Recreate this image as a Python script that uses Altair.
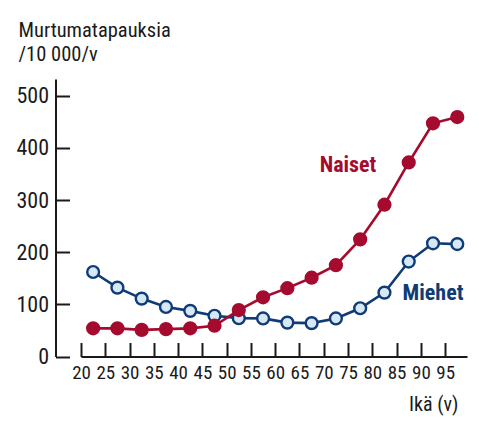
import altair as alt
import pandas as pd

# ---- data ----
ages = [22.5, 27.5, 32.5, 37.5, 42.5, 47.5, 52.5, 57.5, 62.5, 67.5, 72.5, 77.5, 82.5, 87.5, 92.5, 97.5]
naiset = [54, 54, 51, 52.5, 54, 59, 89, 113.5, 131, 151, 175, 224.5, 291, 372, 447, 459]
miehet = [162, 132, 111, 95, 87.5, 78, 73.5, 73, 65, 64, 73, 92.5, 122.5, 182, 217, 215.5]
x_ticks = [20, 25, 30, 35, 40, 45, 50, 55, 60, 65, 70, 75, 80, 85, 90, 95]
y_ticks = [0, 100, 200, 300, 400, 500]
series_names = ["Naiset", "Miehet"]
label_age = [75, 92.5]
label_value = [353, 108.5]

RED = "#a50b2e"
NAVY = "#0f3b77"
LIGHT = "#d6e8f6"
INK = "#1a1a1a"
FONT = "'Roboto Condensed', 'DejaVu Sans Condensed', sans-serif"

W = 386
H = 277.5

df = pd.DataFrame({
    "age": ages + ages,
    "value": miehet + naiset,
    "series": ["Miehet"] * len(ages) + ["Naiset"] * len(ages),
})
labels = pd.DataFrame({"age": label_age, "value": label_value, "series": series_names})

x_axis = alt.Axis(
    orient="top", offset=-H, values=x_ticks, grid=False,
    tickSize=14, tickWidth=2, tickColor=INK,
    domainColor=INK, domainWidth=2,
    labelPadding=-21, labelBaseline="top", labelFont=FONT, labelFontSize=19,
    labelColor=INK, labelFlush=False, labelOverlap=False,
    title="Ikä (v)", titleX=377, titleY=53.5, titleAlign="right",
    titleBaseline="alphabetic", titleAngle=0, titleFont=FONT,
    titleFontSize=20, titleFontWeight="normal", titleColor=INK,
)
y_axis = alt.Axis(
    orient="right", offset=-(W + 25.5), values=y_ticks, grid=False,
    tickSize=14, tickWidth=2, tickColor=INK,
    domainColor=INK, domainWidth=2,
    labelPadding=-21, labelAlign="right", labelBaseline="middle",
    labelFont=FONT, labelFontSize=22, labelColor=INK, labelFlush=False,
    title=["Murtumatapauksia", "/10 000/v"], titleX=-37.5, titleY=-42.5,
    titleAlign="left", titleBaseline="alphabetic", titleAngle=0,
    titleLineHeight=23.5, titleFont=FONT, titleFontSize=20.5,
    titleFontWeight="normal", titleColor=INK,
)
x_enc = alt.X("age:Q", scale=alt.Scale(domain=[20, 99.5], nice=False, zero=False), axis=x_axis)
y_enc = alt.Y("value:Q", scale=alt.Scale(domain=[0, 532], nice=False), axis=y_axis)

color_scale = alt.Scale(domain=series_names, range=[RED, NAVY])
fill_scale = alt.Scale(domain=series_names, range=[RED, LIGHT])

lines = alt.Chart(df).mark_line(strokeWidth=2.6).encode(
    x=x_enc, y=y_enc,
    color=alt.Color("series:N", scale=color_scale, legend=None),
)
points = alt.Chart(df).mark_point(filled=True, shape="circle", size=140, strokeWidth=2.4, opacity=1).encode(
    x=x_enc, y=y_enc,
    fill=alt.Fill("series:N", scale=fill_scale, legend=None),
    stroke=alt.Stroke("series:N", scale=color_scale, legend=None),
)
texts = alt.Chart(labels).mark_text(
    font=FONT, fontSize=22, fontWeight="bold", align="center", baseline="alphabetic"
).encode(
    x=x_enc, y=y_enc, text="series:N",
    color=alt.Color("series:N", scale=color_scale, legend=None),
)

chart = alt.layer(lines, points, texts).properties(
    width=W, height=H,
    autosize=alt.AutoSizeParams(type="none"),
    padding={"left": 73, "top": 71, "right": 4, "bottom": 59.5},
    background="white",
).configure_view(strokeWidth=0)

chart.save("out.html", embed_options={"renderer": "svg", "actions": False})
